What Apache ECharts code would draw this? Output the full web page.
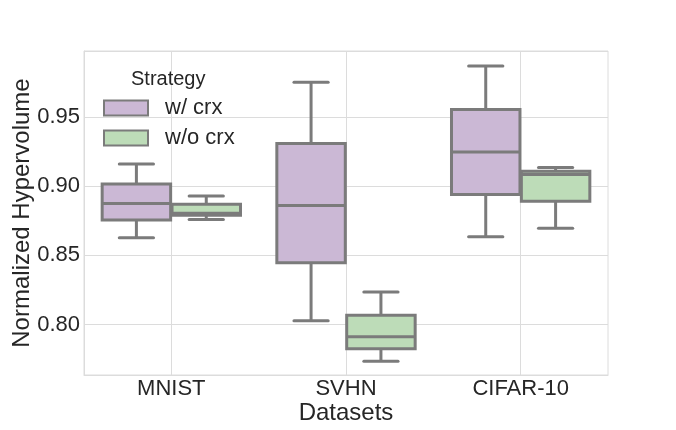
<!DOCTYPE html>
<html>
<head>
<meta charset="utf-8">
<script src="https://cdn.jsdelivr.net/npm/echarts@6/dist/echarts.min.js"></script>
<style>
html,body{margin:0;padding:0;background:#fff;}
#chart{width:676px;height:430px;}
</style>
</head>
<body>
<div id="chart"></div>
<script>
// Data (five-number summaries: min, q1, median, q3, max)
const categories = ['MNIST', 'SVHN', 'CIFAR-10'];
const seriesNames = ['w/ crx', 'w/o crx'];
const withCrx = [
  [0.8626, 0.8754, 0.8874, 0.9014, 0.9158],
  [0.8027, 0.8446, 0.8860, 0.9307, 0.9750],
  [0.8634, 0.8939, 0.9245, 0.9553, 0.9867]
];
const withoutCrx = [
  [0.8758, 0.8789, 0.8804, 0.8868, 0.8928],
  [0.7734, 0.7825, 0.7912, 0.8066, 0.8234],
  [0.8694, 0.8890, 0.9083, 0.9107, 0.9134]
];
const yMin = 0.7635, yMax = 0.9975;

const FONT = "'Liberation Sans', Arial, Helvetica, sans-serif";
const TEXT = '#262626';
const EDGE = '#7b7b7b';
const GRIDC = '#dcdcdc';
const colors = ['#cbb8d5', '#bddcb8'];

function toRows(arr) { return arr.map((v, i) => [i].concat(v)); }

function makeRender(offset, color) {
  return function (params, api) {
    const cat = api.value(0);
    const band = api.size([1, 0])[0];
    const cx = api.coord([cat, api.value(3)])[0] + offset * band;
    const w = 0.392 * band, cw = w / 2;
    const y = i => api.coord([cat, api.value(i)])[1];
    const vMin = y(1), q1 = y(2), med = y(3), q3 = y(4), vMax = y(5);
    const ls = { stroke: EDGE, lineWidth: 3, fill: null };
    const lsr = { stroke: EDGE, lineWidth: 3, fill: null, lineCap: 'round' };
    return {
      type: 'group',
      children: [
        { type: 'line', shape: { x1: cx, y1: q3, x2: cx, y2: vMax }, style: ls },
        { type: 'line', shape: { x1: cx, y1: q1, x2: cx, y2: vMin }, style: ls },
        { type: 'line', shape: { x1: cx - cw / 2, y1: vMax, x2: cx + cw / 2, y2: vMax }, style: lsr },
        { type: 'line', shape: { x1: cx - cw / 2, y1: vMin, x2: cx + cw / 2, y2: vMin }, style: lsr },
        { type: 'rect', shape: { x: cx - w / 2, y: q3, width: w, height: q1 - q3 }, style: { fill: color, stroke: EDGE, lineWidth: 3 } },
        { type: 'line', shape: { x1: cx - w / 2, y1: med, x2: cx + w / 2, y2: med }, style: ls }
      ]
    };
  };
}

const chart = echarts.init(document.getElementById('chart'), null, { renderer: 'canvas' });
chart.setOption({
  animation: false,
  backgroundColor: '#fff',
  textStyle: { fontFamily: FONT },
  title: {
    text: 'Strategy', left: 126, top: 64,
    textStyle: { fontFamily: FONT, fontSize: 20, fontWeight: 'normal', color: TEXT }
  },
  legend: {
    orient: 'vertical', left: 98, top: 92,
    itemWidth: 44, itemHeight: 15, itemGap: 8,
    icon: 'rect',
    textStyle: { fontFamily: FONT, fontSize: 22, color: TEXT, padding: [0, 0, 0, 12] },
    data: [
      { name: seriesNames[0], itemStyle: { color: colors[0], borderColor: EDGE, borderWidth: 2 } },
      { name: seriesNames[1], itemStyle: { color: colors[1], borderColor: EDGE, borderWidth: 2 } }
    ]
  },
  grid: {
    left: 84, right: 68, top: 51, bottom: 55,
    outerBoundsMode: 'none', containLabel: false,
    show: true, borderColor: GRIDC, borderWidth: 1
  },
  xAxis: {
    type: 'category', data: categories,
    name: 'Datasets', nameLocation: 'middle', nameGap: 26, nameMoveOverlap: false,
    nameTextStyle: { fontFamily: FONT, fontSize: 24, color: TEXT },
    axisLine: { show: true, lineStyle: { color: GRIDC } },
    axisTick: { show: false },
    axisLabel: { fontFamily: FONT, fontSize: 22, color: TEXT, margin: 3 },
    splitLine: { show: true, alignWithLabel: true, lineStyle: { color: GRIDC } }
  },
  yAxis: {
    type: 'value', min: yMin, max: yMax,
    name: 'Normalized Hypervolume', nameLocation: 'middle', nameGap: 50, nameMoveOverlap: false,
    nameTextStyle: { fontFamily: FONT, fontSize: 24, color: TEXT },
    axisLine: { show: true, lineStyle: { color: GRIDC } },
    axisTick: { show: false },
    axisLabel: {
      fontFamily: FONT, fontSize: 22, color: TEXT, margin: 4,
      showMinLabel: false, showMaxLabel: false,
      formatter: v => v.toFixed(2)
    },
    splitLine: { show: true, lineStyle: { color: GRIDC } }
  },
  series: [
    {
      name: seriesNames[0], type: 'custom', itemStyle: { color: colors[0] },
      renderItem: makeRender(-0.2, colors[0]),
      encode: { x: 0, y: [1, 2, 3, 4, 5] },
      data: toRows(withCrx)
    },
    {
      name: seriesNames[1], type: 'custom', itemStyle: { color: colors[1] },
      renderItem: makeRender(0.2, colors[1]),
      encode: { x: 0, y: [1, 2, 3, 4, 5] },
      data: toRows(withoutCrx)
    }
  ]
});
</script>
</body>
</html>
